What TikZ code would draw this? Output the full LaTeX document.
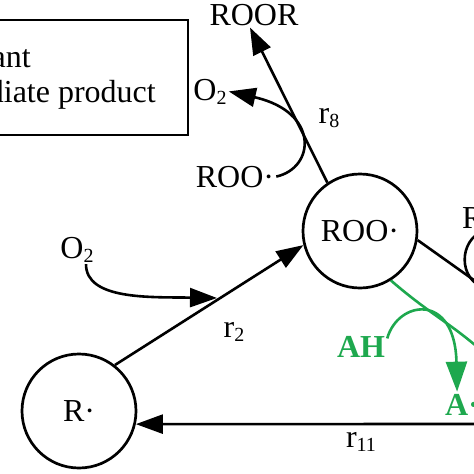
\documentclass[tikz,border=0pt]{standalone}
\usepackage{fontspec}
\setmainfont{Liberation Serif}
\usetikzlibrary{arrows.meta}
\definecolor{leafgreen}{RGB}{30,168,78}
\newcommand{\lsub}[1]{\raisebox{-4pt}{\fontsize{20}{20}\selectfont #1}}

\begin{document}
\begin{tikzpicture}
    [
    x = 1pt, y = -1pt,
    every node/.style = {font=\fontsize{32}{38}\selectfont, inner sep=2pt},
    arr/.style = {-{Triangle[length=27pt, width=19pt]}},
    green arr/.style = {-{Triangle[length=30pt, width=21pt]}},
    ]
    \tikzstyle{species node}=[circle,draw,line width=2.7pt,minimum size=114pt,inner sep=0]
    \tikzstyle{text node}=[anchor=base]
    \tikzstyle{link}=[line width=2.6pt]
    \tikzstyle{green link}=[line width=2.6pt,leafgreen]
    \tikzstyle{green text}=[anchor=base,leafgreen,font=\fontsize{32}{38}\selectfont\bfseries]

    \useasboundingbox (0,0) rectangle (474,474);

    \draw[line width=2.2pt] (-60,20) rectangle (188,135);
    \node[text node, anchor=base east] (reac) at (33,67) {Reactant};
    \node[text node, anchor=base east] (inter) at (158,102) {Intermediate product};

    \node[species node] (roo) at (360,231) {ROO·};
    \node[species node] (rr) at (79,411) {R·};

    \node[text node] (roor) at (254,25) {ROOR};
    \node[text node] (o2b) at (210,100) {O\lsub{2}};
    \node[text node] (r8) at (329,123) {r\lsub{8}};
    \node[text node] (rooa) at (235,187) {ROO·};
    \node[text node] (o2a) at (77,258) {O\lsub{2}};
    \node[text node] (r2) at (234,337) {r\lsub{2}};
    \node[text node] (r11) at (361,447) {r\lsub{11}};
    \node[text node, anchor=base west] (rh) at (460,228) {RH};
    \node[green text] (ah) at (361,357) {AH};
    \node[green text, anchor=base west] (adot) at (443,415) {A·};

    \coordinate (j2) at (217,298);
    \coordinate (ro) at (530,320);
    \coordinate (jr) at (485,288);
    \coordinate (ga) at (490,358);
    \coordinate (rb) at (490,424);

    \draw[link,arr] (rr.52) -- (roo.194);
    \draw[link,arr] ([xshift=9pt]o2a.south) .. controls (86,300) and (150,297) .. (j2);
    \draw[link,arr] (roo.124) -- ([xshift=-4pt]roor.south);
    \draw[link,arr] (rooa.east) .. controls (315,168) and (320,112) .. (o2b.east);
    \draw[link] (roo.-9) -- (ro);
    \draw[link] (rh.south) .. controls (458,240) and (458,280) .. (jr);
    \draw[link,arr] (rb) -- (rr.-13);
    \draw[green link] (roo.-58) .. controls (432,316) and (450,322) .. (ga);
    \draw[green link,green arr] ([yshift=8pt]ah.east) .. controls (398,300) and (455,292) .. ([xshift=-5pt]adot.north);
\end{tikzpicture}
\end{document}
